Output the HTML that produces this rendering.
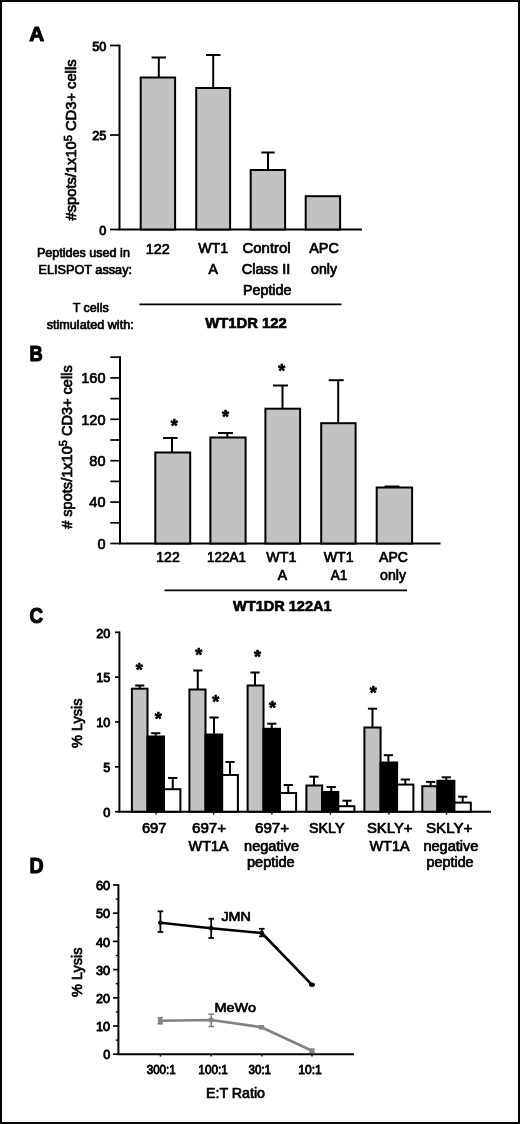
<!DOCTYPE html>
<html><head><meta charset="utf-8"><title>Figure</title>
<style>
html,body{margin:0;padding:0;background:#fff}
svg{display:block;font-family:"Liberation Sans",sans-serif}
text{stroke:#000;stroke-width:0.7px;stroke-linejoin:round}
text.t{stroke-width:0.85px}
text.p{stroke-width:1.1px}
</style></head><body>
<svg width="520" height="1124" viewBox="0 0 520 1124">
<rect x="0" y="0" width="520" height="1124" fill="#fff"/>
<rect x="1" y="1" width="518" height="1122" fill="none" stroke="#000" stroke-width="2"/>
<text x="29.2" y="40.6" font-size="21" font-weight="bold" textLength="15" lengthAdjust="spacingAndGlyphs" class="p">A</text>
<line x1="119.5" y1="44.6" x2="119.5" y2="229.5" stroke="#000" stroke-width="2"/>
<line x1="118.5" y1="229.5" x2="362" y2="229.5" stroke="#000" stroke-width="2"/>
<line x1="110" y1="45.5" x2="119.5" y2="45.5" stroke="#000" stroke-width="1.7"/>
<text x="106.3" y="50.8" font-size="12.7" text-anchor="end" class="t">50</text>
<line x1="110" y1="135" x2="119.5" y2="135" stroke="#000" stroke-width="1.7"/>
<text x="106.3" y="140.3" font-size="12.7" text-anchor="end" class="t">25</text>
<line x1="110" y1="229.5" x2="119.5" y2="229.5" stroke="#000" stroke-width="1.7"/>
<text x="106.3" y="234.8" font-size="12.7" text-anchor="end" class="t">0</text>
<text x="76.3" y="220.5" font-size="14" textLength="161" lengthAdjust="spacingAndGlyphs" transform="rotate(-90 76.3 220.5)">#spots/1x10<tspan font-size="10.5" dy="-4.5">5</tspan><tspan dy="4.5"> CD3+ cells</tspan></text>
<rect x="140.7" y="77.5" width="34.400000000000006" height="152.0" fill="#c2c2c2" stroke="#000" stroke-width="2"/>
<line x1="158.8" y1="57.5" x2="158.8" y2="77.5" stroke="#000" stroke-width="2"/>
<line x1="151.55" y1="57.5" x2="166.05" y2="57.5" stroke="#000" stroke-width="2"/>
<rect x="196.2" y="88" width="33.900000000000006" height="141.5" fill="#c2c2c2" stroke="#000" stroke-width="2"/>
<line x1="213.2" y1="55" x2="213.2" y2="88" stroke="#000" stroke-width="2"/>
<line x1="205.95" y1="55" x2="220.45" y2="55" stroke="#000" stroke-width="2"/>
<rect x="250.7" y="170" width="34.400000000000034" height="59.5" fill="#c2c2c2" stroke="#000" stroke-width="2"/>
<line x1="268" y1="152.5" x2="268" y2="170" stroke="#000" stroke-width="2"/>
<line x1="261.35" y1="152.5" x2="274.65" y2="152.5" stroke="#000" stroke-width="2"/>
<rect x="305.7" y="196.2" width="34.400000000000034" height="33.30000000000001" fill="#c2c2c2" stroke="#000" stroke-width="2"/>
<text x="129.9" y="256.9" font-size="12.8" text-anchor="end" textLength="93" lengthAdjust="spacingAndGlyphs">Peptides used in</text>
<text x="132" y="273.5" font-size="12.8" text-anchor="end" textLength="93.5" lengthAdjust="spacingAndGlyphs">ELISPOT assay:</text>
<text x="157.7" y="253.7" font-size="14" text-anchor="middle" textLength="24" lengthAdjust="spacingAndGlyphs">122</text>
<text x="213.2" y="253" font-size="14" text-anchor="middle" textLength="30" lengthAdjust="spacingAndGlyphs">WT1</text>
<text x="213.2" y="273.5" font-size="14" text-anchor="middle">A</text>
<text x="266.6" y="253.4" font-size="14" text-anchor="middle" textLength="48" lengthAdjust="spacingAndGlyphs">Control</text>
<text x="266" y="274" font-size="14" text-anchor="middle" textLength="48.5" lengthAdjust="spacingAndGlyphs">Class II</text>
<text x="267.2" y="295" font-size="14" text-anchor="middle" textLength="48.5" lengthAdjust="spacingAndGlyphs">Peptide</text>
<text x="324" y="253" font-size="14" text-anchor="middle" textLength="29.5" lengthAdjust="spacingAndGlyphs">APC</text>
<text x="324" y="274" font-size="14" text-anchor="middle" textLength="26" lengthAdjust="spacingAndGlyphs">only</text>
<line x1="139.5" y1="304.3" x2="341.5" y2="304.3" stroke="#000" stroke-width="1.8"/>
<text x="90.7" y="312.2" font-size="12.8" text-anchor="middle" textLength="36" lengthAdjust="spacingAndGlyphs">T cells</text>
<text x="133.7" y="328.7" font-size="12.8" text-anchor="end" textLength="87" lengthAdjust="spacingAndGlyphs">stimulated with:</text>
<text x="246" y="327.9" font-size="15" text-anchor="middle" font-weight="bold" textLength="81.5" lengthAdjust="spacingAndGlyphs">WT1DR 122</text>
<text x="29.5" y="361.2" font-size="21.3" font-weight="bold" textLength="13.2" lengthAdjust="spacingAndGlyphs" class="p">B</text>
<line x1="120" y1="356.3" x2="120" y2="543.5" stroke="#000" stroke-width="2"/>
<line x1="119" y1="543.5" x2="440.5" y2="543.5" stroke="#000" stroke-width="2"/>
<line x1="110.3" y1="543.5" x2="120" y2="543.5" stroke="#000" stroke-width="1.7"/>
<line x1="110.3" y1="522.8" x2="120" y2="522.8" stroke="#000" stroke-width="1.7"/>
<line x1="110.3" y1="502.1" x2="120" y2="502.1" stroke="#000" stroke-width="1.7"/>
<line x1="110.3" y1="481.4" x2="120" y2="481.4" stroke="#000" stroke-width="1.7"/>
<line x1="110.3" y1="460.7" x2="120" y2="460.7" stroke="#000" stroke-width="1.7"/>
<line x1="110.3" y1="440.0" x2="120" y2="440.0" stroke="#000" stroke-width="1.7"/>
<line x1="110.3" y1="419.3" x2="120" y2="419.3" stroke="#000" stroke-width="1.7"/>
<line x1="110.3" y1="398.6" x2="120" y2="398.6" stroke="#000" stroke-width="1.7"/>
<line x1="110.3" y1="377.9" x2="120" y2="377.9" stroke="#000" stroke-width="1.7"/>
<line x1="110.3" y1="357.20000000000005" x2="120" y2="357.20000000000005" stroke="#000" stroke-width="1.7"/>
<text x="105.5" y="548.7" font-size="14.5" text-anchor="end">0</text>
<text x="105.5" y="507.3" font-size="14.5" text-anchor="end">40</text>
<text x="105.5" y="465.9" font-size="14.5" text-anchor="end">80</text>
<text x="105.5" y="424.5" font-size="14.5" text-anchor="end">120</text>
<text x="105.5" y="383.09999999999997" font-size="14.5" text-anchor="end">160</text>
<text x="72" y="528.8" font-size="14" textLength="163.5" lengthAdjust="spacingAndGlyphs" transform="rotate(-90 72 528.8)"># spots/1x10<tspan font-size="10.5" dy="-4.5">5</tspan><tspan dy="4.5"> CD3+ cells</tspan></text>
<rect x="155.3" y="452.5" width="34.89999999999998" height="91.0" fill="#c2c2c2" stroke="#000" stroke-width="2"/>
<line x1="172" y1="438" x2="172" y2="452.5" stroke="#000" stroke-width="2"/>
<line x1="163.05" y1="438" x2="177.55" y2="438" stroke="#000" stroke-width="2"/>
<text x="174.2" y="431.6" font-size="18" text-anchor="middle" font-weight="bold">*</text>
<rect x="210.4" y="437.5" width="35.19999999999999" height="106.0" fill="#c2c2c2" stroke="#000" stroke-width="2"/>
<line x1="227.3" y1="433" x2="227.3" y2="437.5" stroke="#000" stroke-width="2"/>
<line x1="218.0" y1="433" x2="233.0" y2="433" stroke="#000" stroke-width="2"/>
<text x="225.6" y="423.1" font-size="18" text-anchor="middle" font-weight="bold">*</text>
<rect x="265.4" y="408.7" width="34.700000000000045" height="134.8" fill="#c2c2c2" stroke="#000" stroke-width="2"/>
<line x1="282.5" y1="385.5" x2="282.5" y2="408.7" stroke="#000" stroke-width="2"/>
<line x1="273.0" y1="385.5" x2="288.0" y2="385.5" stroke="#000" stroke-width="2"/>
<text x="281.75" y="376.6" font-size="18" text-anchor="middle" font-weight="bold">*</text>
<rect x="321.2" y="423.2" width="34.400000000000034" height="120.30000000000001" fill="#c2c2c2" stroke="#000" stroke-width="2"/>
<line x1="338.2" y1="380.2" x2="338.2" y2="423.2" stroke="#000" stroke-width="2"/>
<line x1="328.7" y1="380.2" x2="343.7" y2="380.2" stroke="#000" stroke-width="2"/>
<rect x="376.7" y="487.5" width="35.400000000000034" height="56.0" fill="#c2c2c2" stroke="#000" stroke-width="2"/>
<line x1="392" y1="486.5" x2="392" y2="487.5" stroke="#000" stroke-width="2"/>
<line x1="384.5" y1="486.5" x2="399.5" y2="486.5" stroke="#000" stroke-width="2"/>
<text x="168" y="562.1" font-size="14" text-anchor="middle" textLength="23.5" lengthAdjust="spacingAndGlyphs">122</text>
<text x="226.5" y="562.1" font-size="14" text-anchor="middle" textLength="39" lengthAdjust="spacingAndGlyphs">122A1</text>
<text x="281.3" y="562.1" font-size="14" text-anchor="middle" textLength="30" lengthAdjust="spacingAndGlyphs">WT1</text>
<text x="282.5" y="580" font-size="14" text-anchor="middle">A</text>
<text x="338.7" y="562.1" font-size="14" text-anchor="middle" textLength="30" lengthAdjust="spacingAndGlyphs">WT1</text>
<text x="339" y="580" font-size="14" text-anchor="middle" textLength="16.5" lengthAdjust="spacingAndGlyphs">A1</text>
<text x="393.5" y="562.1" font-size="14" text-anchor="middle" textLength="29" lengthAdjust="spacingAndGlyphs">APC</text>
<text x="393" y="580" font-size="14" text-anchor="middle" textLength="26" lengthAdjust="spacingAndGlyphs">only</text>
<line x1="164.5" y1="590.3" x2="407" y2="590.3" stroke="#000" stroke-width="1.8"/>
<text x="282.3" y="611.1" font-size="15" text-anchor="middle" font-weight="bold" textLength="98.5" lengthAdjust="spacingAndGlyphs">WT1DR 122A1</text>
<text x="29.4" y="623.2" font-size="21.5" font-weight="bold" textLength="13.6" lengthAdjust="spacingAndGlyphs" class="p">C</text>
<line x1="119.4" y1="631.5" x2="119.4" y2="811.7" stroke="#000" stroke-width="2"/>
<line x1="118.4" y1="811.7" x2="491" y2="811.7" stroke="#000" stroke-width="2"/>
<line x1="115" y1="811.7" x2="119.3" y2="811.7" stroke="#000" stroke-width="1.7"/>
<text x="110.3" y="816.9000000000001" font-size="12.7" text-anchor="end" class="t">0</text>
<line x1="115" y1="766.85" x2="119.3" y2="766.85" stroke="#000" stroke-width="1.7"/>
<text x="110.3" y="772.0500000000001" font-size="12.7" text-anchor="end" class="t">5</text>
<line x1="115" y1="722.0" x2="119.3" y2="722.0" stroke="#000" stroke-width="1.7"/>
<text x="110.3" y="727.2" font-size="12.7" text-anchor="end" class="t">10</text>
<line x1="115" y1="677.1500000000001" x2="119.3" y2="677.1500000000001" stroke="#000" stroke-width="1.7"/>
<text x="110.3" y="682.3500000000001" font-size="12.7" text-anchor="end" class="t">15</text>
<line x1="115" y1="632.3000000000001" x2="119.3" y2="632.3000000000001" stroke="#000" stroke-width="1.7"/>
<text x="110.3" y="637.5000000000001" font-size="12.7" text-anchor="end" class="t">20</text>
<text x="82.4" y="748" font-size="14" textLength="49.5" lengthAdjust="spacingAndGlyphs" transform="rotate(-90 82.4 748)">% Lysis</text>
<line x1="156.15" y1="811.7" x2="156.15" y2="814.6" stroke="#000" stroke-width="1.5"/>
<rect x="131.9" y="688.7" width="15.599999999999994" height="123.0" fill="#c2c2c2" stroke="#000" stroke-width="2"/>
<line x1="139.75" y1="685.5" x2="139.75" y2="688.7" stroke="#000" stroke-width="2"/>
<line x1="135.15" y1="685.5" x2="144.35" y2="685.5" stroke="#000" stroke-width="2"/>
<text x="139.25" y="676.1" font-size="18" text-anchor="middle" font-weight="bold">*</text>
<rect x="147.5" y="736.5" width="16.5" height="75.20000000000005" fill="#000" stroke="#000" stroke-width="2"/>
<line x1="155.75" y1="733.2" x2="155.75" y2="735.7" stroke="#000" stroke-width="2"/>
<line x1="151.15" y1="733.2" x2="160.35" y2="733.2" stroke="#000" stroke-width="2"/>
<text x="158.25" y="725.1" font-size="18" text-anchor="middle" font-weight="bold">*</text>
<rect x="164" y="789.2" width="16.400000000000006" height="22.5" fill="#fff" stroke="#000" stroke-width="2"/>
<line x1="172.75" y1="778" x2="172.75" y2="789.2" stroke="#000" stroke-width="2"/>
<line x1="168.15" y1="778" x2="177.35" y2="778" stroke="#000" stroke-width="2"/>
<line x1="213.65" y1="811.7" x2="213.65" y2="814.6" stroke="#000" stroke-width="1.5"/>
<rect x="189.4" y="689.5" width="16.099999999999994" height="122.20000000000005" fill="#c2c2c2" stroke="#000" stroke-width="2"/>
<line x1="197.75" y1="670.5" x2="197.75" y2="689.5" stroke="#000" stroke-width="2"/>
<line x1="193.15" y1="670.5" x2="202.35" y2="670.5" stroke="#000" stroke-width="2"/>
<text x="198.75" y="661.1" font-size="18" text-anchor="middle" font-weight="bold">*</text>
<rect x="205.5" y="734.5" width="16.69999999999999" height="77.20000000000005" fill="#000" stroke="#000" stroke-width="2"/>
<line x1="214" y1="717.5" x2="214" y2="733.7" stroke="#000" stroke-width="2"/>
<line x1="209.4" y1="717.5" x2="218.6" y2="717.5" stroke="#000" stroke-width="2"/>
<text x="215.75" y="707.6" font-size="18" text-anchor="middle" font-weight="bold">*</text>
<rect x="222.2" y="775" width="15.700000000000017" height="36.700000000000045" fill="#fff" stroke="#000" stroke-width="2"/>
<line x1="230" y1="762" x2="230" y2="775" stroke="#000" stroke-width="2"/>
<line x1="225.4" y1="762" x2="234.6" y2="762" stroke="#000" stroke-width="2"/>
<line x1="271.85" y1="811.7" x2="271.85" y2="814.6" stroke="#000" stroke-width="1.5"/>
<rect x="247.6" y="685.5" width="15.900000000000006" height="126.20000000000005" fill="#c2c2c2" stroke="#000" stroke-width="2"/>
<line x1="255" y1="672.5" x2="255" y2="685.5" stroke="#000" stroke-width="2"/>
<line x1="250.4" y1="672.5" x2="259.6" y2="672.5" stroke="#000" stroke-width="2"/>
<text x="257.5" y="662.6" font-size="18" text-anchor="middle" font-weight="bold">*</text>
<rect x="263.5" y="728.8" width="16.5" height="82.90000000000009" fill="#000" stroke="#000" stroke-width="2"/>
<line x1="271.75" y1="723.7" x2="271.75" y2="728" stroke="#000" stroke-width="2"/>
<line x1="267.15" y1="723.7" x2="276.35" y2="723.7" stroke="#000" stroke-width="2"/>
<text x="272.5" y="714.3000000000001" font-size="18" text-anchor="middle" font-weight="bold">*</text>
<rect x="280" y="793" width="16.100000000000023" height="18.700000000000045" fill="#fff" stroke="#000" stroke-width="2"/>
<line x1="288.25" y1="785" x2="288.25" y2="793" stroke="#000" stroke-width="2"/>
<line x1="283.65" y1="785" x2="292.85" y2="785" stroke="#000" stroke-width="2"/>
<line x1="330.4" y1="811.7" x2="330.4" y2="814.6" stroke="#000" stroke-width="1.5"/>
<rect x="306.4" y="785.5" width="15.800000000000011" height="26.200000000000045" fill="#c2c2c2" stroke="#000" stroke-width="2"/>
<line x1="314" y1="776.7" x2="314" y2="785.5" stroke="#000" stroke-width="2"/>
<line x1="309.4" y1="776.7" x2="318.6" y2="776.7" stroke="#000" stroke-width="2"/>
<rect x="322.2" y="792.0" width="16.100000000000023" height="19.700000000000045" fill="#000" stroke="#000" stroke-width="2"/>
<line x1="331.25" y1="787" x2="331.25" y2="791.2" stroke="#000" stroke-width="2"/>
<line x1="326.65" y1="787" x2="335.85" y2="787" stroke="#000" stroke-width="2"/>
<rect x="338.3" y="806.2" width="16.099999999999966" height="5.5" fill="#fff" stroke="#000" stroke-width="2"/>
<line x1="347" y1="800.7" x2="347" y2="806.2" stroke="#000" stroke-width="2"/>
<line x1="342.4" y1="800.7" x2="351.6" y2="800.7" stroke="#000" stroke-width="2"/>
<line x1="388.9" y1="811.7" x2="388.9" y2="814.6" stroke="#000" stroke-width="1.5"/>
<rect x="364.4" y="727.5" width="16.200000000000045" height="84.20000000000005" fill="#c2c2c2" stroke="#000" stroke-width="2"/>
<line x1="372.5" y1="708.7" x2="372.5" y2="727.5" stroke="#000" stroke-width="2"/>
<line x1="367.9" y1="708.7" x2="377.1" y2="708.7" stroke="#000" stroke-width="2"/>
<text x="373.3" y="698.7" font-size="18" text-anchor="middle" font-weight="bold">*</text>
<rect x="380.6" y="762.5" width="16.5" height="49.200000000000045" fill="#000" stroke="#000" stroke-width="2"/>
<line x1="388.4" y1="755.2" x2="388.4" y2="761.7" stroke="#000" stroke-width="2"/>
<line x1="383.79999999999995" y1="755.2" x2="393.0" y2="755.2" stroke="#000" stroke-width="2"/>
<rect x="397.1" y="784.6" width="16.299999999999955" height="27.100000000000023" fill="#fff" stroke="#000" stroke-width="2"/>
<line x1="405.3" y1="779.5" x2="405.3" y2="784.6" stroke="#000" stroke-width="2"/>
<line x1="400.7" y1="779.5" x2="409.90000000000003" y2="779.5" stroke="#000" stroke-width="2"/>
<line x1="446.55" y1="811.7" x2="446.55" y2="814.6" stroke="#000" stroke-width="1.5"/>
<rect x="422.3" y="786.2" width="15.099999999999966" height="25.5" fill="#c2c2c2" stroke="#000" stroke-width="2"/>
<line x1="430.7" y1="781.9" x2="430.7" y2="786.2" stroke="#000" stroke-width="2"/>
<line x1="426.09999999999997" y1="781.9" x2="435.3" y2="781.9" stroke="#000" stroke-width="2"/>
<rect x="437.4" y="780.8" width="17.0" height="30.90000000000009" fill="#000" stroke="#000" stroke-width="2"/>
<line x1="446.3" y1="777.3" x2="446.3" y2="780" stroke="#000" stroke-width="2"/>
<line x1="441.7" y1="777.3" x2="450.90000000000003" y2="777.3" stroke="#000" stroke-width="2"/>
<rect x="454.4" y="802.6" width="16.400000000000034" height="9.100000000000023" fill="#fff" stroke="#000" stroke-width="2"/>
<line x1="462.7" y1="796.7" x2="462.7" y2="802.6" stroke="#000" stroke-width="2"/>
<line x1="458.09999999999997" y1="796.7" x2="467.3" y2="796.7" stroke="#000" stroke-width="2"/>
<text x="154.2" y="833.4" font-size="14" text-anchor="middle" textLength="24.5" lengthAdjust="spacingAndGlyphs">697</text>
<text x="209" y="833.4" font-size="14" text-anchor="middle" textLength="34" lengthAdjust="spacingAndGlyphs">697+</text>
<text x="208.6" y="850.8" font-size="14" text-anchor="middle" textLength="40" lengthAdjust="spacingAndGlyphs">WT1A</text>
<text x="272" y="833.4" font-size="14" text-anchor="middle" textLength="34" lengthAdjust="spacingAndGlyphs">697+</text>
<text x="271.6" y="850.8" font-size="14" text-anchor="middle" textLength="55" lengthAdjust="spacingAndGlyphs">negative</text>
<text x="270.8" y="867.3" font-size="14" text-anchor="middle" textLength="47.5" lengthAdjust="spacingAndGlyphs">peptide</text>
<text x="326.8" y="833.4" font-size="14" text-anchor="middle" textLength="35.5" lengthAdjust="spacingAndGlyphs">SKLY</text>
<text x="389.7" y="833.4" font-size="14" text-anchor="middle" textLength="45.5" lengthAdjust="spacingAndGlyphs">SKLY+</text>
<text x="389.5" y="850.8" font-size="14" text-anchor="middle" textLength="40" lengthAdjust="spacingAndGlyphs">WT1A</text>
<text x="449.2" y="833.4" font-size="14" text-anchor="middle" textLength="46.5" lengthAdjust="spacingAndGlyphs">SKLY+</text>
<text x="450.9" y="850.8" font-size="14" text-anchor="middle" textLength="55" lengthAdjust="spacingAndGlyphs">negative</text>
<text x="450.1" y="867.3" font-size="14" text-anchor="middle" textLength="47" lengthAdjust="spacingAndGlyphs">peptide</text>
<text x="29.4" y="873.4" font-size="21.2" font-weight="bold" textLength="14.1" lengthAdjust="spacingAndGlyphs" class="p">D</text>
<line x1="118.4" y1="884.2" x2="118.4" y2="1054.2" stroke="#000" stroke-width="2"/>
<line x1="117.4" y1="1054.2" x2="354" y2="1054.2" stroke="#000" stroke-width="2"/>
<line x1="113" y1="1054.2" x2="118.4" y2="1054.2" stroke="#000" stroke-width="1.7"/>
<text x="110.2" y="1059.4" font-size="12.7" text-anchor="end" class="t">0</text>
<line x1="115.8" y1="1040.1000000000001" x2="118.4" y2="1040.1000000000001" stroke="#000" stroke-width="1.3"/>
<line x1="113" y1="1026.0" x2="118.4" y2="1026.0" stroke="#000" stroke-width="1.7"/>
<text x="110.2" y="1031.2" font-size="12.7" text-anchor="end" class="t">10</text>
<line x1="115.8" y1="1011.9000000000001" x2="118.4" y2="1011.9000000000001" stroke="#000" stroke-width="1.3"/>
<line x1="113" y1="997.8000000000001" x2="118.4" y2="997.8000000000001" stroke="#000" stroke-width="1.7"/>
<text x="110.2" y="1003.0000000000001" font-size="12.7" text-anchor="end" class="t">20</text>
<line x1="115.8" y1="983.7" x2="118.4" y2="983.7" stroke="#000" stroke-width="1.3"/>
<line x1="113" y1="969.6" x2="118.4" y2="969.6" stroke="#000" stroke-width="1.7"/>
<text x="110.2" y="974.8000000000001" font-size="12.7" text-anchor="end" class="t">30</text>
<line x1="115.8" y1="955.5" x2="118.4" y2="955.5" stroke="#000" stroke-width="1.3"/>
<line x1="113" y1="941.4000000000001" x2="118.4" y2="941.4000000000001" stroke="#000" stroke-width="1.7"/>
<text x="110.2" y="946.6000000000001" font-size="12.7" text-anchor="end" class="t">40</text>
<line x1="115.8" y1="927.3000000000001" x2="118.4" y2="927.3000000000001" stroke="#000" stroke-width="1.3"/>
<line x1="113" y1="913.2" x2="118.4" y2="913.2" stroke="#000" stroke-width="1.7"/>
<text x="110.2" y="918.4000000000001" font-size="12.7" text-anchor="end" class="t">50</text>
<line x1="115.8" y1="899.1" x2="118.4" y2="899.1" stroke="#000" stroke-width="1.3"/>
<line x1="113" y1="885.0" x2="118.4" y2="885.0" stroke="#000" stroke-width="1.7"/>
<text x="110.2" y="890.2" font-size="12.7" text-anchor="end" class="t">60</text>
<text x="82.4" y="997" font-size="14" textLength="49.5" lengthAdjust="spacingAndGlyphs" transform="rotate(-90 82.4 997)">% Lysis</text>
<polyline fill="none" stroke="#000" stroke-width="2.6" stroke-linejoin="round" points="160.4,922.7 211.2,928.3 261.8,933 312,984.8"/>
<line x1="160.4" y1="911.3" x2="160.4" y2="932" stroke="#000" stroke-width="1.8"/>
<line x1="157.6" y1="911.3" x2="163.20000000000002" y2="911.3" stroke="#000" stroke-width="1.8"/>
<line x1="157.6" y1="932" x2="163.20000000000002" y2="932" stroke="#000" stroke-width="1.8"/>
<circle cx="160.4" cy="922.7" r="2.3" fill="#000"/>
<line x1="211.2" y1="918.7" x2="211.2" y2="938" stroke="#000" stroke-width="1.8"/>
<line x1="208.39999999999998" y1="918.7" x2="214.0" y2="918.7" stroke="#000" stroke-width="1.8"/>
<line x1="208.39999999999998" y1="938" x2="214.0" y2="938" stroke="#000" stroke-width="1.8"/>
<circle cx="211.2" cy="928.3" r="2.3" fill="#000"/>
<line x1="261.8" y1="928.8" x2="261.8" y2="936.3" stroke="#000" stroke-width="1.8"/>
<line x1="259.0" y1="928.8" x2="264.6" y2="928.8" stroke="#000" stroke-width="1.8"/>
<line x1="259.0" y1="936.3" x2="264.6" y2="936.3" stroke="#000" stroke-width="1.8"/>
<circle cx="261.8" cy="933" r="2.3" fill="#000"/>
<line x1="312" y1="984.3" x2="312" y2="985.3" stroke="#000" stroke-width="1.8"/>
<line x1="309.2" y1="984.3" x2="314.8" y2="984.3" stroke="#000" stroke-width="1.8"/>
<line x1="309.2" y1="985.3" x2="314.8" y2="985.3" stroke="#000" stroke-width="1.8"/>
<circle cx="312" cy="984.8" r="2.3" fill="#000"/>
<polyline fill="none" stroke="#828282" stroke-width="2.6" stroke-linejoin="round" points="160.2,1020.8 211.2,1020 261.4,1027.2 312,1050.8"/>
<line x1="160.2" y1="1017.7" x2="160.2" y2="1023.8" stroke="#828282" stroke-width="1.6"/>
<line x1="157.39999999999998" y1="1017.7" x2="163.0" y2="1017.7" stroke="#828282" stroke-width="1.6"/>
<line x1="157.39999999999998" y1="1023.8" x2="163.0" y2="1023.8" stroke="#828282" stroke-width="1.6"/>
<rect x="158.0" y="1018.5999999999999" width="4.4" height="4.4" fill="#828282"/>
<line x1="211.2" y1="1014.2" x2="211.2" y2="1026.5" stroke="#828282" stroke-width="1.6"/>
<line x1="208.39999999999998" y1="1014.2" x2="214.0" y2="1014.2" stroke="#828282" stroke-width="1.6"/>
<line x1="208.39999999999998" y1="1026.5" x2="214.0" y2="1026.5" stroke="#828282" stroke-width="1.6"/>
<rect x="209.0" y="1017.8" width="4.4" height="4.4" fill="#828282"/>
<line x1="261.4" y1="1026" x2="261.4" y2="1028.4" stroke="#828282" stroke-width="1.6"/>
<line x1="258.59999999999997" y1="1026" x2="264.2" y2="1026" stroke="#828282" stroke-width="1.6"/>
<line x1="258.59999999999997" y1="1028.4" x2="264.2" y2="1028.4" stroke="#828282" stroke-width="1.6"/>
<rect x="259.2" y="1025.0" width="4.4" height="4.4" fill="#828282"/>
<line x1="312" y1="1049.3" x2="312" y2="1052.3" stroke="#828282" stroke-width="1.6"/>
<line x1="309.2" y1="1049.3" x2="314.8" y2="1049.3" stroke="#828282" stroke-width="1.6"/>
<line x1="309.2" y1="1052.3" x2="314.8" y2="1052.3" stroke="#828282" stroke-width="1.6"/>
<rect x="309.8" y="1048.6" width="4.4" height="4.4" fill="#828282"/>
<text x="236.2" y="921.2" font-size="13.5" text-anchor="middle" textLength="29.5" lengthAdjust="spacingAndGlyphs">JMN</text>
<text x="235.2" y="1012.3" font-size="13.5" text-anchor="middle" textLength="41.5" lengthAdjust="spacingAndGlyphs">MeWo</text>
<text x="161.2" y="1073.6" font-size="12.3" text-anchor="middle" textLength="29" lengthAdjust="spacingAndGlyphs" class="t">300:1</text>
<text x="213.1" y="1073.6" font-size="12.3" text-anchor="middle" textLength="29.5" lengthAdjust="spacingAndGlyphs" class="t">100:1</text>
<text x="259.8" y="1073.6" font-size="12.3" text-anchor="middle" textLength="22.5" lengthAdjust="spacingAndGlyphs" class="t">30:1</text>
<text x="310" y="1073.6" font-size="12.3" text-anchor="middle" textLength="23.5" lengthAdjust="spacingAndGlyphs" class="t">10:1</text>
<line x1="160.4" y1="1054.2" x2="160.4" y2="1056.6" stroke="#000" stroke-width="1.4"/>
<line x1="211.2" y1="1054.2" x2="211.2" y2="1056.6" stroke="#000" stroke-width="1.4"/>
<line x1="261.8" y1="1054.2" x2="261.8" y2="1056.6" stroke="#000" stroke-width="1.4"/>
<line x1="312" y1="1054.2" x2="312" y2="1056.6" stroke="#000" stroke-width="1.4"/>
<text x="235.5" y="1098" font-size="14" text-anchor="middle" textLength="59" lengthAdjust="spacingAndGlyphs">E:T Ratio</text>
</svg>
</body></html>
